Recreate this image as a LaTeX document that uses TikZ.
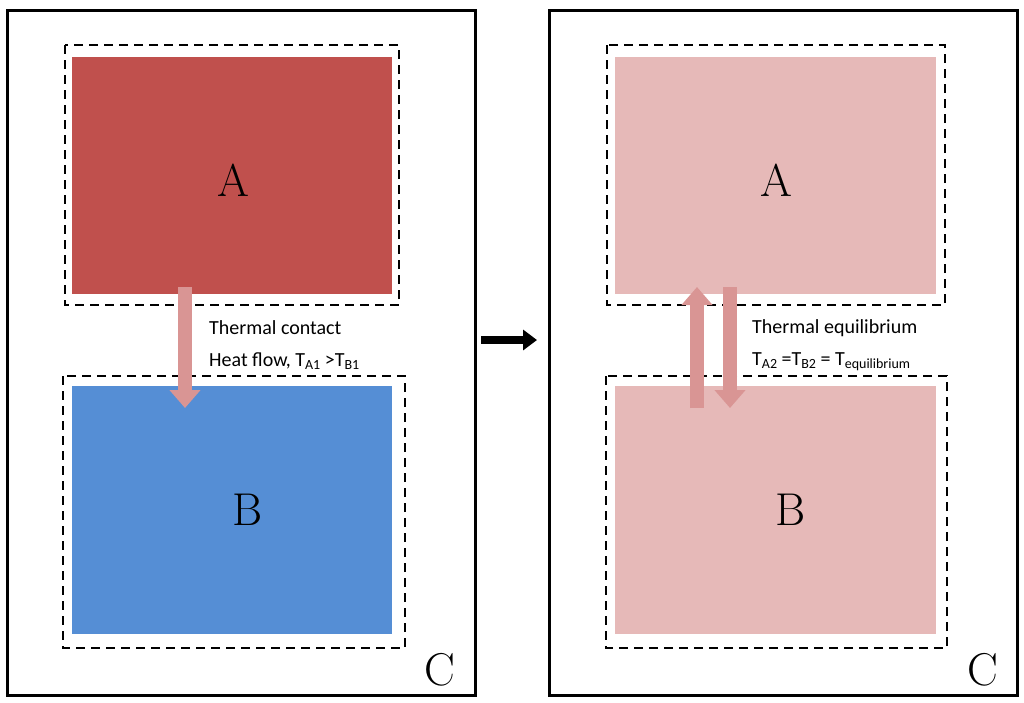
\documentclass[tikz,border=0pt]{standalone}
\usepackage{fontspec}
\newfontfamily\carl{Carlito}
\usetikzlibrary{arrows.meta}
\definecolor{hot}{HTML}{C0504D}
\definecolor{cold}{HTML}{558ED5}
\definecolor{eq}{HTML}{E6B9B8}
\definecolor{flow}{HTML}{D99594}
\newcommand{\sbs}[1]{\raisebox{-0.35ex}{\fontsize{14}{14}\selectfont #1}}
\begin{document}
\begin{tikzpicture}[x=1pt,y=-1pt,
 frame/.style={draw=black,line width=3pt},
 dashbox/.style={draw=black,line width=2.5pt,dash pattern=on 9pt off 6pt},
 big/.style={font=\fontsize{46}{46}\selectfont},
 lab/.style={font=\carl\fontsize{20}{22}\selectfont,anchor=west,inner sep=0pt},
 heat/.style={draw=flow,line width=14pt,-{Triangle[width=30pt,length=18pt]}}]
\useasboundingbox (0,0) rectangle (1024,702);
\draw[frame] (7,10) rectangle (475,695);
\draw[frame] (549,10) rectangle (1017,695);
% left
\fill[hot] (72,57) rectangle (392,294);
\fill[cold] (72,386) rectangle (392,634);
\draw[dashbox] (65,45) rectangle (399,305);
\draw[dashbox] (63,376) rectangle (405,648);
\node[big] (a1) at (233,180) {A};
\node[big] (b1) at (248,510) {B};
\node[big] (c1) at (440,670) {C};
\coordinate (s1) at (185,287);
\coordinate (e1) at (185,408);
\draw[heat] (s1) -- (e1);
\node[lab] (t1) at (209,328) {Thermal contact};
\node[lab] (t2) at (209,361) {Heat flow, T\sbs{A1} >T\sbs{B1}};
% middle arrow
\coordinate (m1) at (481,340);
\coordinate (m2) at (537,340);
\draw[line width=8pt,-{Triangle[width=20pt,length=14pt]}] (m1) -- (m2);
% right
\fill[eq] (615,57) rectangle (936,294);
\fill[eq] (615,386) rectangle (936,634);
\draw[dashbox] (607,45) rectangle (945,305);
\draw[dashbox] (606,376) rectangle (947,648);
\node[big] (a2) at (776,180) {A};
\node[big] (b2) at (791,510) {B};
\node[big] (c2) at (983,670) {C};
\coordinate (u1) at (697,408);
\coordinate (u2) at (697,287);
\coordinate (d1) at (730,287);
\coordinate (d2) at (730,408);
\draw[heat] (u1) -- (u2);
\draw[heat] (d1) -- (d2);
\node[lab] (t3) at (752,328) {Thermal equilibrium};
\node[lab] (t4) at (752,362) {T\sbs{A2} =T\sbs{B2} = T\sbs{equilibrium}};
\end{tikzpicture}
\end{document}
